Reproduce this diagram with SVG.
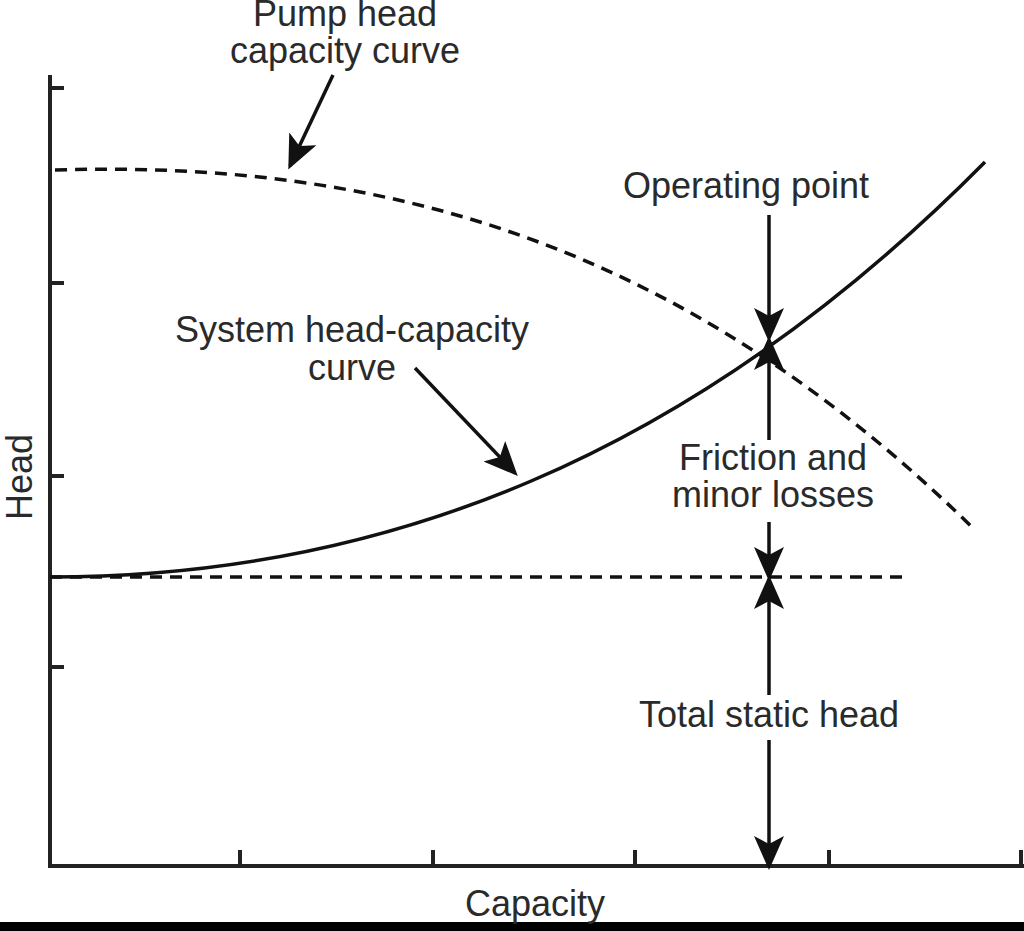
<svg xmlns="http://www.w3.org/2000/svg" width="1024" height="931" viewBox="0 0 1024 931">
<style>
text{font-family:"Liberation Sans",Arial,sans-serif;font-size:36px;fill:#2a2a2a;text-anchor:middle}
.ax{stroke:#222;stroke-width:4;fill:none}
.ln{stroke:#111;stroke-width:3.5;fill:none}
.ds{stroke:#111;stroke-width:3.5;fill:none;stroke-dasharray:12 8}
</style>
<defs>
<marker id="ab" markerWidth="34" markerHeight="34" refX="30" refY="17" orient="auto" markerUnits="userSpaceOnUse" viewBox="0 0 34 34">
<path d="M0,2 L34,17 L0,32 L8,17 Z" fill="#111"/>
</marker>
</defs>
<rect width="1024" height="931" fill="#fff"/>
<g id="axes">
<path class="ax" d="M50,75 V866 H1024"/>
<path class="ax" d="M50,88 H64 M50,283 H64 M50,476 H64 M50,667 H64"/>
<path class="ax" d="M240,866 V850 M433,866 V850 M635,866 V850 M829,866 V850 M1021,866 V850"/>
</g>
<g id="pump-curve"><path class="ds" d="M55,170 C 380,160 680,240 975,530"/></g>
<g id="system-curve"><path class="ln" d="M50,577 C 380,577 690,460 985,162"/></g>
<g id="static-line"><path class="ds" d="M50,577 H908"/></g>
<g id="connectors">
<path class="ln" d="M333,75 L290,166" marker-end="url(#ab)"/>
<path class="ln" d="M415,368 L515,473" marker-end="url(#ab)"/>
<path class="ln" d="M769,215 V338" marker-end="url(#ab)"/>
<path class="ln" d="M769,440 V340" marker-end="url(#ab)"/>
<path class="ln" d="M769,522 V577" marker-end="url(#ab)"/>
<path class="ln" d="M769,695 V579" marker-end="url(#ab)"/>
<path class="ln" d="M769,740 V866" marker-end="url(#ab)"/>
</g>
<rect x="0" y="922" width="1024" height="9" fill="#000"/>
<g id="labels">
<text x="345" y="26">Pump head</text>
<text x="345" y="63">capacity curve</text>
<text x="746" y="198">Operating point</text>
<text x="352" y="342">System head-capacity</text>
<text x="352" y="380">curve</text>
<text x="773" y="470">Friction and</text>
<text x="773" y="507">minor losses</text>
<text x="769" y="727">Total static head</text>
<text x="535" y="916">Capacity</text>
<text x="0" y="0" transform="translate(32,477) rotate(-90)">Head</text>
</g>
</svg>
